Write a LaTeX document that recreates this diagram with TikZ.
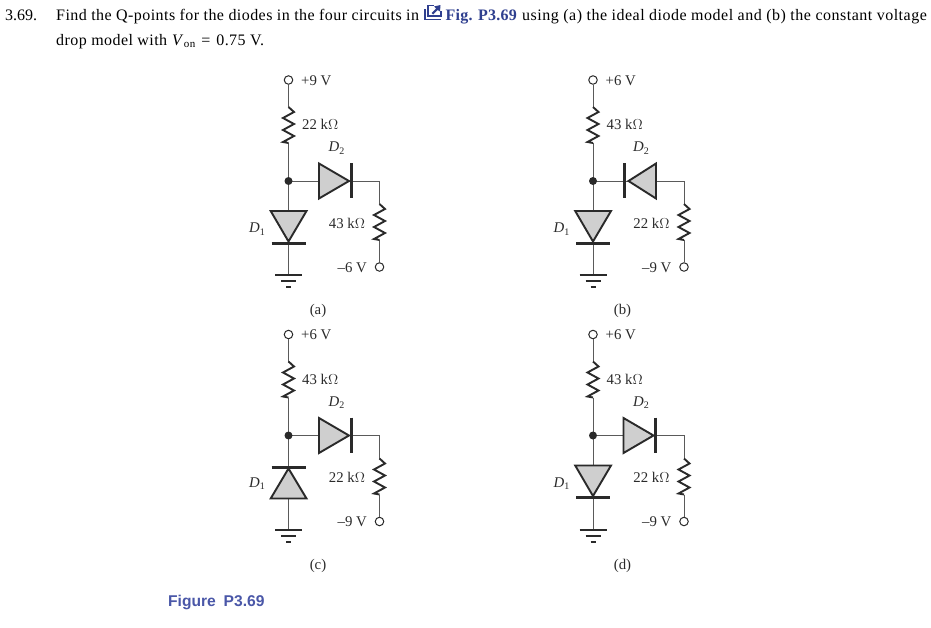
\documentclass[tikz,border=0pt]{standalone}
\usepackage{fontspec}
\setmainfont{Liberation Serif}
\setsansfont{Liberation Sans}
\definecolor{wirec}{HTML}{5A5A5A}
\definecolor{inkc}{HTML}{2A2A2A}
\definecolor{fillc}{HTML}{CFCFCF}
\definecolor{bluec}{HTML}{2F3F8F}
\definecolor{capc}{HTML}{4A57A8}
\tikzset{
  wire/.style={draw=wirec,line width=1pt,line join=miter},
  res/.style={draw=inkc,line width=1.9pt,line join=miter},
  term/.style={circle,draw=inkc,line width=1pt,fill=white,minimum size=8.5pt,inner sep=0pt},
  jdot/.style={circle,fill=inkc,minimum size=8pt,inner sep=0pt},
  dtri/.style={draw=inkc,line width=1.9pt,fill=fillc,line join=miter},
  dbar/.style={draw=inkc,line width=3pt},
  gnd/.style={draw=inkc,line width=2pt},
  lab/.style={font=\fontsize{14.8}{16}\selectfont,text=inkc,inner sep=0pt},
  txt/.style={font=\fontsize{16}{18}\selectfont,text=black,inner sep=0pt,anchor=base west},
}
\newcommand{\dlabel}[2]{\textit{#1}\raisebox{-2.5pt}{\fontsize{10}{11}\selectfont #2}}
\newcommand{\circuit}[8]{%
\begin{scope}[shift={(#2,#3)}]
  \coordinate (#1j) at (288.5,181);
  \coordinate (#1rt) at (288.5,107);
  \coordinate (#1rb) at (288.5,143);
  \coordinate (#1corner) at (379.5,181);
  \coordinate (#1qt) at (379.5,204);
  \coordinate (#1qb) at (379.5,240);
  \coordinate (#1g) at (288.5,275);
  \node[term] (#1top) at (288.5,80) {};
  \node[term] (#1bot) at (379.5,267) {};
  \draw[wire] (#1top) -- (#1rt);
  \draw[wire] (#1rb) -- (#1j);
  \draw[wire] (#1j) -- (#1corner) -- (#1qt);
  \draw[wire] (#1qb) -- (#1bot);
  \draw[wire] (#1j) -- (#1g);
  \draw[res] (#1rt) -- ++(5.5,5) -- ++(-11,6) -- ++(11,6) -- ++(-11,6) -- ++(11,6) -- ++(-11,6) -- (#1rb);
  \draw[res] (#1qt) -- ++(5.5,5) -- ++(-11,6) -- ++(11,6) -- ++(-11,6) -- ++(11,6) -- ++(-11,6) -- (#1qb);
  \draw[gnd] (275,275) -- (302,275);
  \draw[gnd] (281,281) -- (296,281);
  \draw[gnd] (286,287) -- (291,287);
  \node[jdot] (#1dot) at (#1j) {};
  \node[lab,anchor=west] (#1vt) at (301,80.5) {#4};
  \node[lab,anchor=west] (#1rtl) at (302,124.5) {#5};
  \node[lab] (#1rbl) at (347,223) {#6};
  \node[lab,anchor=east] (#1vb) at (367,267.5) {#7};
  \node[lab] (#1cap) at (318,311) {#8};
  \node[lab] (#1d2l) at (336.5,148) {\dlabel{D}{2}};
  \node[lab] (#1d1l) at (257,229) {\dlabel{D}{1}};
\end{scope}}
% D1: dx, dy, base y, apex y, bar y
\newcommand{\dioneV}[5]{%
\begin{scope}[shift={(#1,#2)}]
  \draw[dtri] (270.7,#3) -- (306.5,#3) -- (288.5,#4) -- cycle;
  \draw[dbar] (271.5,#5) -- (305.5,#5);
\end{scope}}
% D2: dx, dy, base x, apex x, bar x
\newcommand{\ditwoH}[5]{%
\begin{scope}[shift={(#1,#2)}]
  \draw[dtri] (#3,163.5) -- (#3,198.5) -- (#4,181) -- cycle;
  \draw[dbar] (#5,163) -- (#5,198);
\end{scope}}
\begin{document}
\begin{tikzpicture}[x=1pt,y=-1pt]
\useasboundingbox (0,0) rectangle (931,627);
\fill[white] (0,0) rectangle (931,627);
\node[txt] (num) at (5,20) {3.69.};
\node[txt] (l1a) at (56,20) {\addfontfeature{LetterSpace=2.75}Find the Q-points for the diodes in the four circuits in};
\node[txt,text=bluec,font=\fontsize{16}{18}\selectfont\bfseries] (l1b) at (445.5,20) {\addfontfeature{LetterSpace=1.3}Fig. P3.69};
\node[txt] (l1c) at (522,20) {\addfontfeature{LetterSpace=3.1}using (a) the ideal diode model and (b) the constant voltage};
\node[txt] (l2) at (56,45) {\addfontfeature{LetterSpace=2.75}drop model with\hspace{5pt}\textit{V}\raisebox{-2.5pt}{\fontsize{11}{12}\selectfont on}\hspace{6pt}=\hspace{6pt}0.75 V.};
% link icon
\draw[bluec,line width=1.1pt] (425,9) -- (425,19.5) -- (441,19.5);
\draw[bluec,line width=1.1pt] (434,5.5) -- (428,5.5) -- (428,16) -- (441,16) -- (441,11);
\fill[bluec] (431.5,13) -- (436,8.5) -- (434,6.5) -- (440.5,5) -- (440,11.5) -- (437.5,10) -- (433,14.5) -- cycle;
\circuit{a}{0}{0}{+9 V}{22 k$\Omega$}{43 k$\Omega$}{–6 V}{(a)}
\dioneV{0}{0}{211}{241.5}{243}
\ditwoH{0}{0}{319}{349}{351}
\circuit{b}{304.5}{0}{+6 V}{43 k$\Omega$}{22 k$\Omega$}{–9 V}{(b)}
\dioneV{304.5}{0}{211}{241.5}{243}
\ditwoH{304.5}{0}{351.5}{324}{319.5}
\circuit{c}{0}{254.5}{+6 V}{43 k$\Omega$}{22 k$\Omega$}{–9 V}{(c)}
\dioneV{0}{254.5}{244}{214}{212.5}
\ditwoH{0}{254.5}{319}{349}{351}
\circuit{d}{304.5}{254.5}{+6 V}{43 k$\Omega$}{22 k$\Omega$}{–9 V}{(d)}
\dioneV{304.5}{254.5}{211}{241.5}{243}
\ditwoH{304.5}{254.5}{319}{349}{351}
\node[font=\sffamily\bfseries\fontsize{15.6}{18}\selectfont,text=capc,inner sep=0pt,anchor=base west] (fig) at (168,606.5) {Figure\hspace{3.5pt} P3.69};
\end{tikzpicture}
\end{document}
